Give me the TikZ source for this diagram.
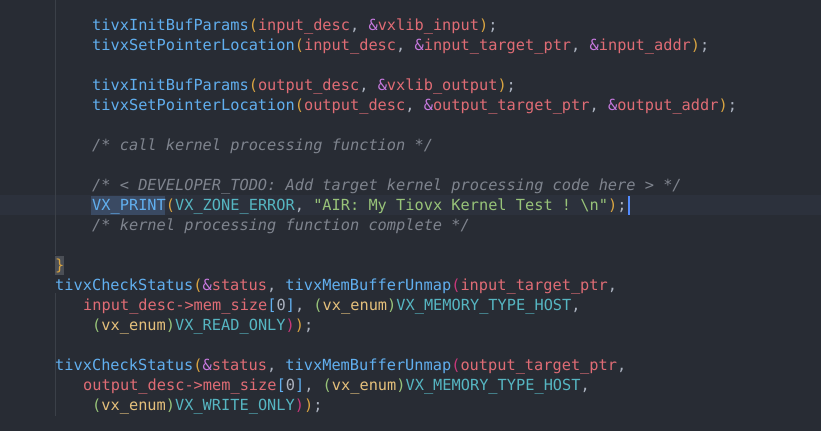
\documentclass[tikz,border=0pt]{standalone}
\usepackage{fontspec}
\setmonofont{DejaVu Sans Mono}
\definecolor{bg}{HTML}{282C34}
\definecolor{curl}{HTML}{2C313C}
\definecolor{sel}{HTML}{3A4A63}
\definecolor{guide}{HTML}{3B4048}
\definecolor{fn}{HTML}{61AFEF}
\definecolor{vr}{HTML}{E06C75}
\definecolor{amp}{HTML}{C678DD}
\definecolor{pa}{HTML}{D9A441}
\definecolor{pb}{HTML}{C8387A}
\definecolor{pc}{HTML}{98C379}
\definecolor{cst}{HTML}{56B6C2}
\definecolor{ty}{HTML}{E5C07B}
\definecolor{pl}{HTML}{ABB2BF}
\definecolor{str}{HTML}{98C379}
\definecolor{cm}{HTML}{7F848E}
\definecolor{cur}{HTML}{528BFF}
\newcommand\F[1]{\textcolor{fn}{#1}}
\newcommand\V[1]{\textcolor{vr}{#1}}
\newcommand\A{\textcolor{amp}{\&}}
\newcommand\Pa[1]{\textcolor{pa}{#1}}
\newcommand\Pb[1]{\textcolor{pb}{#1}}
\newcommand\Pc[1]{\textcolor{pc}{#1}}
\newcommand\K[1]{\textcolor{cst}{#1}}
\newcommand\T[1]{\textcolor{ty}{#1}}
\newcommand\Pl[1]{\textcolor{pl}{#1}}
\newcommand\Sg[1]{\textcolor{str}{#1}}
\newcommand\Cm[1]{\textcolor{cm}{\itshape #1}}
\begin{document}
\begin{tikzpicture}[x=1pt,y=-1pt,
  codeline/.style={anchor=base west,inner sep=0pt,font=\ttfamily\fontsize{15.3}{20}\selectfont,text=pl}]
\fill[bg] (0,0) rectangle (821,431);
\fill[curl] (0,195) rectangle (821,215);
\fill[sel] (91,196) rectangle (165,215);
\fill[guide!80!white!60!bg] (54.5,255.5) rectangle (64,275);
\draw[guide] (55,0) -- (55,255);
\draw[guide] (55,293) -- (55,416);
\fill[cur] (628,196) rectangle (630,215);
\node[codeline] (l0) at (92,30) {\F{tivxInitBufParams}\Pa{(}\V{input\_desc}, \A\V{vxlib\_input}\Pa{)};};
\node[codeline] (l1) at (92,50) {\F{tivxSetPointerLocation}\Pa{(}\V{input\_desc}, \A\V{input\_target\_ptr}, \A\V{input\_addr}\Pa{)};};
\node[codeline] (l3) at (92,90) {\F{tivxInitBufParams}\Pa{(}\V{output\_desc}, \A\V{vxlib\_output}\Pa{)};};
\node[codeline] (l4) at (92,110) {\F{tivxSetPointerLocation}\Pa{(}\V{output\_desc}, \A\V{output\_target\_ptr}, \A\V{output\_addr}\Pa{)};};
\node[codeline] (l6) at (92,150) {\Cm{/* call kernel processing function */}};
\node[codeline] (l8) at (92,190) {\Cm{/* < DEVELOPER\_TODO: Add target kernel processing code here > */}};
\node[codeline] (l9) at (92,210) {\F{VX\_PRINT}\Pa{(}\K{VX\_ZONE\_ERROR}, \Sg{"AIR: My Tiovx Kernel Test ! \textbackslash n"}\Pa{)};};
\node[codeline] (l10) at (92,230) {\Cm{/* kernel processing function complete */}};
\node[codeline] (l12) at (55,270) {\Pa{\}}};
\node[codeline] (l13) at (55,290) {\F{tivxCheckStatus}\Pa{(}\A\V{status}, \F{tivxMemBufferUnmap}\Pb{(}\V{input\_target\_ptr},};
\node[codeline] (l14) at (83,310) {\V{input\_desc->mem\_size}\F{[}\Pl{0}\F{]}, \Pc{(}\T{vx\_enum}\Pc{)}\K{VX\_MEMORY\_TYPE\_HOST},};
\node[codeline] (l15) at (92,330) {\Pc{(}\T{vx\_enum}\Pc{)}\K{VX\_READ\_ONLY}\Pb{)}\Pa{)};};
\node[codeline] (l17) at (55,370) {\F{tivxCheckStatus}\Pa{(}\A\V{status}, \F{tivxMemBufferUnmap}\Pb{(}\V{output\_target\_ptr},};
\node[codeline] (l18) at (83,390) {\V{output\_desc->mem\_size}\F{[}\Pl{0}\F{]}, \Pc{(}\T{vx\_enum}\Pc{)}\K{VX\_MEMORY\_TYPE\_HOST},};
\node[codeline] (l19) at (92,410) {\Pc{(}\T{vx\_enum}\Pc{)}\K{VX\_WRITE\_ONLY}\Pb{)}\Pa{)};};
\end{tikzpicture}
\end{document}
